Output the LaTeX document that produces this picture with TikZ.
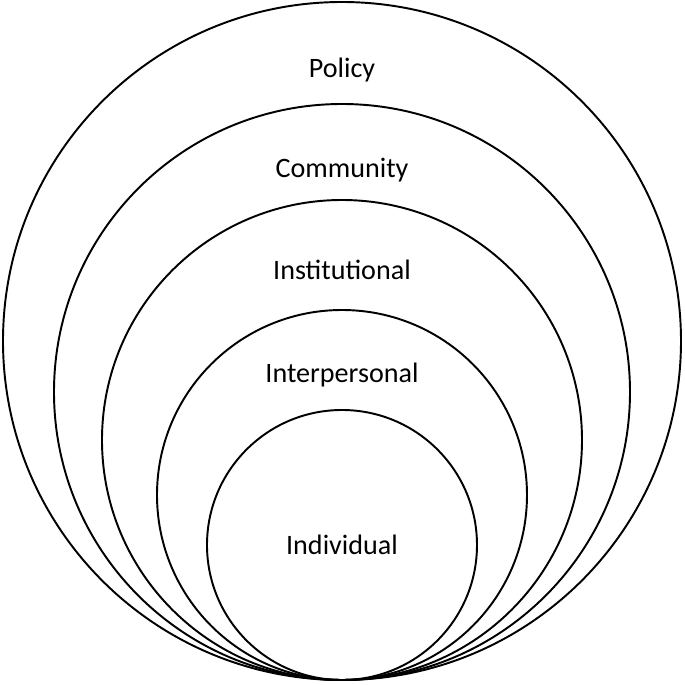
\documentclass[tikz,border=0pt]{standalone}
\usepackage{fontspec}
\setmainfont{Carlito}
\usetikzlibrary{positioning}

\begin{document}
\begin{tikzpicture}[
    ring/.style={circle, draw, line width=1.1pt, inner sep=0pt},
    lbl/.style={font=\fontsize{16}{19}\selectfont, align=center}
]
\useasboundingbox (-6.84,-0.1) rectangle (6.86,13.6);

\node[ring, minimum size=13.56cm] (policy) at (0,6.78) {};
\node[ring, minimum size=11.52cm] (community) at (0,5.76) {};
\node[ring, minimum size=9.6cm] (institutional) at (0,4.8) {};
\node[ring, minimum size=7.4cm] (interpersonal) at (0,3.7) {};
\node[ring, minimum size=5.4cm, lbl] (individual) at (0,2.7) {Individual};

\node[lbl] (policytxt) at (0,12.2) {Policy};
\node[lbl] (communitytxt) at (0,10.2) {Community};
\node[lbl] (institutionaltxt) at (0,8.2) {Institutional};
\node[lbl] (interpersonaltxt) at (0,6.1) {Interpersonal};

\end{tikzpicture}
\end{document}
